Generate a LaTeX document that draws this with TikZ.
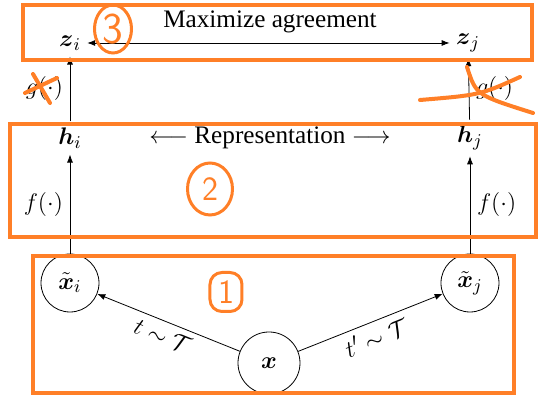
\documentclass[tikz,border=0pt]{standalone}
\usepackage{amsmath}
\usepackage{fontspec}
\setmainfont{Liberation Serif}
\usetikzlibrary{arrows.meta,shapes.geometric}
\definecolor{PenOrange}{RGB}{255,127,39}
\newcommand{\basesize}{\fontsize{12.6}{15}\selectfont}
\tikzset{
  vec/.style={font=\basesize,inner sep=3pt},
  view/.style={draw,circle,thin,minimum size=29pt,inner sep=0pt,font=\basesize},
  markbox/.style={draw=PenOrange,line width=2pt},
  penline/.style={draw=PenOrange,line width=2pt,line cap=round},
  tag/.style={draw=PenOrange,text=PenOrange,line width=1.5pt,inner sep=0pt}
}

\begin{document}
\begin{tikzpicture}[x=0.5pt,y=-0.5pt,>={Latex[length=4pt,width=3pt]}]
  \useasboundingbox (0,0) rectangle (554,405);

  \node[view,minimum size=31pt] (x) at (269,363) {$\boldsymbol{x}$};
  \node[view] (xi) at (70,283) {$\tilde{\boldsymbol{x}}_i$};
  \node[view] (xj) at (470,283) {$\tilde{\boldsymbol{x}}_j$};

  \node[vec] (hi) at (70,138) {$\boldsymbol{h}_i$};
  \node[vec] (hj) at (470,138) {$\boldsymbol{h}_j$};
  \node[vec] (rep) at (270,138) {$\longleftarrow$ Representation $\longrightarrow$};

  \node[vec] (zi) at (70,43) {$\boldsymbol{z}_i$};
  \node[vec] (zj) at (468,43) {$\boldsymbol{z}_j$};
  \node[vec] (agree) at (270,22) {Maximize agreement};

  \draw[thin,<-] (xi) -- (x) node[midway,below,sloped,inner sep=3pt,font=\basesize] {$t\sim\mathcal{T}$};
  \draw[thin,->] (x) -- (xj) node[midway,below,sloped,inner sep=3pt,font=\basesize] {$t'\sim\mathcal{T}$};
  \draw[thin,->] (xi) -- (hi) node[midway,left,font=\basesize] {$f(\cdot)$};
  \draw[thin,->] (xj) -- (hj) node[midway,right,font=\basesize] {$f(\cdot)$};
  \draw[thin,->] (hi) -- (zi) node[midway,left,font=\basesize] {$g(\cdot)$};
  \draw[thin,->] (hj) -- (zj) node[midway,right,font=\basesize] {$g(\cdot)$};
  \draw[thin,<->] (zi) -- (zj);

  \draw[markbox] (23,5) rectangle (532,60);
  \draw[markbox] (10,124) rectangle (536,237);
  \draw[markbox] (33,256) rectangle (514,393);

  \node[tag,ellipse,minimum width=18.5pt,minimum height=24pt,
        font=\sffamily\fontsize{22}{22}\selectfont] (three) at (113,29) {3};
  \node[tag,ellipse,minimum width=22.5pt,minimum height=26pt,
        font=\sffamily\fontsize{17}{17}\selectfont] (two) at (210,189) {2};
  \node[tag,rounded corners=6pt,minimum width=16pt,minimum height=19.5pt,
        font=\sffamily\fontsize{17}{17}\selectfont] (one) at (226,292) {1};

  \draw[penline] (33,74) -- (50,103);
  \draw[penline] (25,93) -- (57,78);
  \draw[penline] (467,67) .. controls (476,95) .. (533,113);
  \draw[penline] (420,100) .. controls (480,95) .. (520,77);
\end{tikzpicture}
\end{document}
